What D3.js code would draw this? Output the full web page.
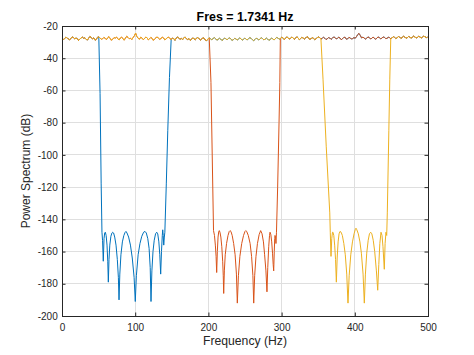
<!DOCTYPE html>
<html>
<head>
<meta charset="utf-8">
<script src="https://cdn.jsdelivr.net/npm/d3@7"></script>
<style>
  html, body { margin: 0; padding: 0; background: #ffffff; }
  svg { display: block; font-family: "Liberation Sans", Arial, Helvetica, sans-serif; }
</style>
</head>
<body>
<svg id="chart" width="474" height="355"></svg>
<script>
// ---------------- data ----------------
const titleText = "Fres = 1.7341 Hz";
const fres = 1.7341;
const xTicks = [0, 100, 200, 300, 400, 500];
const yTicks = [-200, -180, -160, -140, -120, -100, -80, -60, -40, -20];

// passband power spectrum (dB), common to all three filtered signals, one value per Fres bin
const noiseDb = [
  -27.6,-28.4,-27.9,-27.0,-27.3,-28.1,-28.6,-27.7,-26.8,-27.1,-28.0,-27.5,-27.8,-29.0,-28.2,-27.4,-26.9,-27.6,-27.3,-28.3,
  -28.7,-27.6,-26.5,-27.2,-27.9,-27.4,-28.8,-28.3,-27.0,-26.7,-27.5,-28.2,-27.9,-27.1,-27.6,-28.5,-27.3,-26.6,-27.8,-28.9,
  -28.1,-27.2,-27.5,-26.9,-28.0,-28.6,-27.4,-27.0,-27.7,-28.8,-27.5,-26.4,-27.1,-27.9,-27.6,-28.4,-27.2,-26.1,-24.4,-26.5,
  -27.6,-28.2,-27.0,-27.4,-28.5,-27.8,-26.9,-27.3,-28.6,-27.9,-27.1,-27.7,-28.9,-28.0,-27.3,-26.8,-27.6,-28.3,-27.7,-27.0,
  -27.4,-28.6,-28.1,-27.2,-26.9,-27.8,-28.4,-27.5,-27.8,-28.9,-27.6,-26.8,-27.5,-28.2,-27.7,-28.5,-27.3,-26.9,-27.9,-28.4,
  -27.8,-28.9,-28.3,-27.4,-27.9,-28.6,-27.5,-27.1,-28.0,-28.7,-28.2,-27.3,-27.7,-28.8,-29.1,-28.0,-27.4,-27.9,-28.5,-27.8,
  -27.2,-27.9,-28.8,-28.3,-27.6,-28.1,-29.0,-28.4,-27.5,-27.9,-28.6,-27.8,-27.3,-28.2,-28.9,-28.5,-27.7,-28.0,-28.7,-28.1,
  -27.4,-27.9,-28.8,-28.2,-27.5,-28.3,-28.6,-27.8,-27.2,-27.7,-28.5,-29.1,-28.4,-27.6,-28.0,-28.7,-27.9,-27.3,-27.8,-28.6,
  -28.2,-27.5,-28.1,-28.9,-28.3,-27.6,-27.9,-28.7,-28.0,-27.1,-27.4,-28.2,-27.9,-27.0,-27.3,-28.4,-27.8,-26.8,-27.2,-28.1,
  -27.7,-26.9,-27.3,-28.3,-27.6,-26.7,-27.4,-28.5,-27.8,-27.0,-27.5,-28.1,-27.4,-26.6,-27.2,-28.3,-28.0,-27.2,-27.5,-28.5,
  -28.0,-27.3,-26.8,-27.2,-28.1,-27.7,-26.9,-27.6,-28.4,-27.9,-27.2,-27.5,-28.3,-27.6,-26.8,-27.1,-28.0,-27.7,-26.9,-27.5,
  -28.5,-27.9,-27.1,-27.0,-28.2,-28.0,-27.1,-27.3,-28.1,-27.8,-27.2,-27.6,-26.6,-25.3,-24.6,-25.9,-27.4,-27.0,-27.3,-28.2,
  -27.6,-26.8,-27.1,-28.0,-27.7,-26.9,-27.4,-28.3,-27.5,-26.8,-27.2,-27.9,-27.6,-26.8,-27.0,-27.8,-27.7,-27.0,-27.2,-27.9,
  -27.4,-26.6,-27.0,-27.8,-27.4,-26.5,-26.9,-27.7,-27.1,-26.4,-26.8,-27.6,-27.3,-26.5,-26.9,-27.5,-27.0,-26.3,-26.8,-27.4,
  -27.1,-26.4,-26.8,-27.4,-26.9,-26.3,-26.7,-27.2,-26.9
];

// stopband spectra [frequency Hz, dB]
const blueStop = [
  [52.0,-62],[53.5,-118],[54.6,-148],[55.4,-153],[56.4,-166],[57.4,-152],[58.3,-148.5],[59.2,-148],[60.3,-150],
  [61.5,-156],[62.5,-166],[63.3,-179],[64.2,-165],[65.3,-156],[66.8,-150.5],[68.2,-148.5],[69.3,-148],[70.5,-148.5],
  [72.0,-151],[73.8,-156],[75.6,-165],[77.0,-176],[77.9,-190],[79.0,-174],[80.5,-162],[82.5,-154],[84.5,-150],
  [86.3,-148],[87.4,-147.5],[88.8,-148.5],[91.0,-151],[93.5,-156],[96.0,-164],[98.5,-176],[100.1,-191],[101.6,-175],
  [104.0,-162],[106.5,-155],[109.0,-150.5],[111.5,-148],[113.4,-147.5],[115.2,-148.5],[117.2,-152],[119.0,-158],
  [120.5,-170],[121.6,-191],[122.8,-172],[124.3,-160],[126.0,-153],[127.8,-149],[129.4,-148],[130.8,-149],[132.3,-154],
  [133.6,-162],[134.8,-174],[135.9,-160],[137.0,-150],[137.6,-146.5],[138.3,-150],[139.0,-156],[139.8,-151],[140.5,-148],
  [142.5,-118],[144.5,-85],[146.8,-52]
];
const orangeStop = [
  [203.5,-55],[205.6,-110],[207.0,-147],[208.3,-150],[209.5,-156],[210.5,-163],[211.3,-173],[212.2,-160],[213.2,-151],
  [214.2,-147.5],[214.9,-147],[215.8,-148],[217.0,-151],[218.3,-157],[219.5,-166],[220.3,-175],[220.9,-186],[221.8,-172],
  [223.0,-162],[224.8,-155],[226.8,-150],[228.5,-147.5],[229.5,-147],[230.8,-147.5],[232.5,-150],[234.5,-155],[236.5,-162],
  [238.3,-174],[239.5,-192],[241.0,-175],[243.0,-163],[245.5,-155],[248.0,-150],[250.0,-147.5],[251.0,-147],[252.3,-147.5],
  [254.5,-150],[257.0,-155],[259.0,-163],[260.8,-175],[261.9,-192],[263.2,-175],[265.0,-163],[267.0,-155],[269.3,-149.5],
  [271.4,-147],[273.3,-149],[275.2,-154],[276.8,-162],[278.6,-172],[280.0,-185],[281.1,-170],[282.4,-157],[283.5,-150],
  [284.2,-148],[285.3,-149.5],[286.5,-154],[287.6,-161],[288.5,-168],[289.2,-172],[290.0,-160],[290.6,-152],[291.0,-150],
  [291.7,-151],[292.3,-155],[293.0,-148],[294.6,-120],[296.5,-80],[297.6,-55]
];
const yellowStop = [
  [356.6,-53],[361.0,-95],[365.8,-136],[366.5,-148],[367.5,-163],[368.5,-152],[369.5,-148],[370.2,-148],[371.3,-150],
  [372.5,-156],[373.7,-165],[374.8,-179],[375.9,-164],[377.2,-154],[378.5,-149],[379.8,-147.5],[381.3,-148],[383.0,-150],
  [385.0,-155],[387.0,-162],[389.0,-174],[390.7,-192],[392.3,-175],[394.5,-162],[396.8,-154],[399.0,-149],[400.5,-146.5],
  [401.6,-145.5],[402.8,-146.5],[404.8,-149],[407.0,-154],[409.0,-161],[411.3,-174],[413.0,-192],[414.5,-174],[416.3,-161],
  [418.3,-153],[420.0,-149],[421.7,-148],[423.3,-149],[425.2,-153],[427.2,-160],[429.5,-172],[431.3,-184],[432.8,-168],
  [434.2,-155],[435.8,-148],[437.2,-150],[438.5,-157],[440.3,-171],[441.4,-155],[442.6,-148],[443.6,-150],[444.4,-136],
  [446.5,-85],[447.8,-53]
];

const seriesDefs = [
  { name: "bandstop 50-150 Hz",  color: "#0072BD", lo: 51,    hi: 148, stop: blueStop },
  { name: "bandstop 200-300 Hz", color: "#D95319", lo: 201.5, hi: 298, stop: orangeStop },
  { name: "bandstop 350-450 Hz", color: "#EDB120", lo: 354,   hi: 449, stop: yellowStop }
];

// ---------------- layout ----------------
const W = 474, H = 355;
const margin = { left: 62, right: 46, top: 26, bottom: 39 };
const iw = W - margin.left - margin.right;
const ih = H - margin.top - margin.bottom;
const axisColor = "#262626";
const gridColor = "#dfdfdf";

const svg = d3.select("#chart");
const g = svg.append("g").attr("transform", `translate(${margin.left},${margin.top})`);

const x = d3.scaleLinear().domain([0, 500]).range([0, iw]);
const y = d3.scaleLinear().domain([-200, -20]).range([ih, 0]);

// grid
g.append("g").attr("class", "grid")
  .selectAll("line.vx").data(xTicks).join("line")
  .attr("x1", d => x(d)).attr("x2", d => x(d)).attr("y1", 0).attr("y2", ih)
  .attr("stroke", gridColor).attr("stroke-width", 1).attr("shape-rendering", "crispEdges");
g.append("g").attr("class", "grid")
  .selectAll("line.hy").data(yTicks).join("line")
  .attr("x1", 0).attr("x2", iw).attr("y1", d => y(d)).attr("y2", d => y(d))
  .attr("stroke", gridColor).attr("stroke-width", 1).attr("shape-rendering", "crispEdges");

// clip
svg.append("defs").append("clipPath").attr("id", "clip")
  .append("rect").attr("x", 0).attr("y", 0).attr("width", iw).attr("height", ih);

// series
const freqs = noiseDb.map((_, i) => i * fres);
const line = d3.line().x(d => x(d[0])).y(d => y(d[1]));
const plot = g.append("g").attr("clip-path", "url(#clip)");
seriesDefs.forEach(s => {
  const pts = [];
  freqs.forEach((f, i) => { if (f < s.lo) pts.push([f, noiseDb[i]]); });
  s.stop.forEach(p => pts.push(p));
  freqs.forEach((f, i) => { if (f > s.hi) pts.push([f, noiseDb[i]]); });
  plot.append("path").datum(pts)
    .attr("fill", "none").attr("stroke", s.color).attr("stroke-width", 1)
    .attr("stroke-linejoin", "round").attr("d", line);
});

// axes (ticks inward, box on)
const fmt = d => String(d);
const xAxis = g.append("g").attr("transform", `translate(0,${ih})`)
  .call(d3.axisBottom(x).tickValues(xTicks).tickFormat(fmt).tickSizeInner(-3.5).tickSizeOuter(0).tickPadding(7.4));
const xAxisTop = g.append("g")
  .call(d3.axisTop(x).tickValues(xTicks).tickFormat("").tickSizeInner(-3.5).tickSizeOuter(0));
const yAxis = g.append("g")
  .call(d3.axisLeft(y).tickValues(yTicks).tickFormat(fmt).tickSizeInner(-3.5).tickSizeOuter(0).tickPadding(4.3));
const yAxisRight = g.append("g").attr("transform", `translate(${iw},0)`)
  .call(d3.axisRight(y).tickValues(yTicks).tickFormat("").tickSizeInner(-3.5).tickSizeOuter(0));

[xAxis, xAxisTop, yAxis, yAxisRight].forEach(a => {
  a.select(".domain").remove();
  a.selectAll(".tick line").attr("stroke", axisColor);
  a.selectAll(".tick text").attr("fill", axisColor).style("font-size", "10px")
    .style("font-family", '"Liberation Sans", Arial, Helvetica, sans-serif');
});

g.append("rect").attr("x", 0.5).attr("y", 0.5).attr("width", iw - 0.5).attr("height", ih - 0.5)
  .attr("fill", "none").attr("stroke", axisColor).attr("stroke-width", 1).attr("shape-rendering", "crispEdges");

// labels
svg.append("text").attr("x", margin.left + iw / 2).attr("y", 20.5)
  .attr("text-anchor", "middle").attr("fill", "#000").style("font-size", "12.4px").style("font-weight", "bold")
  .text(titleText);
svg.append("text").attr("x", margin.left + iw / 2).attr("y", 345.3)
  .attr("text-anchor", "middle").attr("fill", axisColor).style("font-size", "12.2px")
  .text("Frequency (Hz)");
svg.append("text").attr("transform", `translate(29.5,${margin.top + ih / 2}) rotate(-90)`)
  .attr("text-anchor", "middle").attr("fill", axisColor).style("font-size", "12px")
  .text("Power Spectrum (dB)");
</script>
</body>
</html>
